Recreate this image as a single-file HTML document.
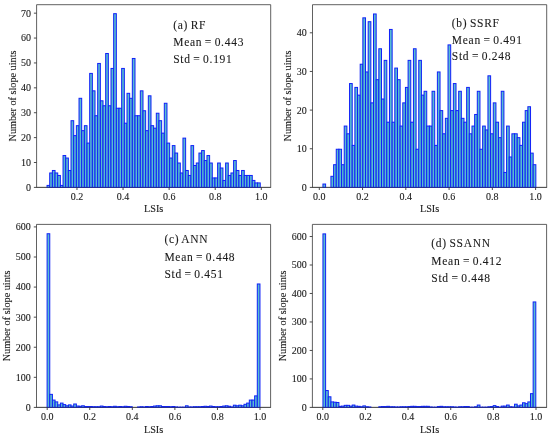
<!DOCTYPE html>
<html><head><meta charset="utf-8"><title>LSI histograms</title>
<style>
html,body{margin:0;padding:0;background:#fff}
svg{display:block}
text{font-family:"Liberation Serif","DejaVu Serif",serif;fill:#1a1a1a;stroke:#1a1a1a;stroke-width:0.1px}
.t{font-size:10px}
.l{font-size:10.2px}
.n{font-size:11.5px;letter-spacing:0.72px;word-spacing:-1px}
</style></head><body>
<svg width="550" height="437" viewBox="0 0 550 437">
<rect width="550" height="437" fill="#fff"/>
<g>
<path d="M36.6 187.4H270.7" stroke="#383838" stroke-width="0.8" fill="none"/>
<g fill="#58bcd0" stroke="#1020f8" stroke-width="1.0">
<rect x="47.05" y="185.41" width="2.665" height="1.99"/><rect x="49.71" y="172.97" width="2.665" height="14.43"/><rect x="52.38" y="170.48" width="2.665" height="16.92"/><rect x="55.04" y="172.97" width="2.665" height="14.43"/><rect x="57.71" y="175.46" width="2.665" height="11.95"/><rect x="60.38" y="185.41" width="2.665" height="1.99"/><rect x="63.04" y="155.54" width="2.665" height="31.86"/><rect x="65.70" y="158.03" width="2.665" height="29.37"/><rect x="68.37" y="170.48" width="2.665" height="16.92"/><rect x="71.03" y="120.70" width="2.665" height="66.70"/><rect x="73.70" y="135.63" width="2.665" height="51.77"/><rect x="76.36" y="125.68" width="2.665" height="61.72"/><rect x="79.03" y="98.30" width="2.665" height="89.10"/><rect x="81.69" y="130.65" width="2.665" height="56.75"/><rect x="84.36" y="125.68" width="2.665" height="61.72"/><rect x="87.03" y="143.10" width="2.665" height="44.30"/><rect x="89.69" y="73.41" width="2.665" height="113.99"/><rect x="92.35" y="90.83" width="2.665" height="96.57"/><rect x="95.02" y="115.72" width="2.665" height="71.68"/><rect x="97.69" y="63.45" width="2.665" height="123.95"/><rect x="100.35" y="100.79" width="2.665" height="86.61"/><rect x="103.02" y="105.76" width="2.665" height="81.64"/><rect x="105.68" y="53.49" width="2.665" height="133.91"/><rect x="108.34" y="105.76" width="2.665" height="81.64"/><rect x="111.01" y="68.43" width="2.665" height="118.97"/><rect x="113.67" y="13.67" width="2.665" height="173.73"/><rect x="116.34" y="108.25" width="2.665" height="79.15"/><rect x="119.00" y="108.25" width="2.665" height="79.15"/><rect x="121.67" y="68.43" width="2.665" height="118.97"/><rect x="124.33" y="123.19" width="2.665" height="64.21"/><rect x="127.00" y="93.32" width="2.665" height="94.08"/><rect x="129.66" y="98.30" width="2.665" height="89.10"/><rect x="132.33" y="58.47" width="2.665" height="128.93"/><rect x="135.00" y="115.72" width="2.665" height="71.68"/><rect x="137.66" y="115.72" width="2.665" height="71.68"/><rect x="140.32" y="90.83" width="2.665" height="96.57"/><rect x="142.99" y="110.74" width="2.665" height="76.66"/><rect x="145.66" y="130.65" width="2.665" height="56.75"/><rect x="148.32" y="95.81" width="2.665" height="91.59"/><rect x="150.99" y="125.68" width="2.665" height="61.72"/><rect x="153.65" y="128.16" width="2.665" height="59.24"/><rect x="156.31" y="113.23" width="2.665" height="74.17"/><rect x="158.98" y="120.70" width="2.665" height="66.70"/><rect x="161.64" y="133.14" width="2.665" height="54.26"/><rect x="164.31" y="103.27" width="2.665" height="84.13"/><rect x="166.97" y="143.10" width="2.665" height="44.30"/><rect x="169.64" y="158.03" width="2.665" height="29.37"/><rect x="172.31" y="145.59" width="2.665" height="41.81"/><rect x="174.97" y="153.05" width="2.665" height="34.35"/><rect x="177.63" y="163.01" width="2.665" height="24.39"/><rect x="180.30" y="172.97" width="2.665" height="14.43"/><rect x="182.96" y="138.12" width="2.665" height="49.28"/><rect x="185.63" y="170.48" width="2.665" height="16.92"/><rect x="188.30" y="175.46" width="2.665" height="11.95"/><rect x="190.96" y="145.59" width="2.665" height="41.81"/><rect x="193.62" y="165.50" width="2.665" height="21.90"/><rect x="196.29" y="163.01" width="2.665" height="24.39"/><rect x="198.95" y="153.05" width="2.665" height="34.35"/><rect x="201.62" y="150.56" width="2.665" height="36.84"/><rect x="204.29" y="160.52" width="2.665" height="26.88"/><rect x="206.95" y="155.54" width="2.665" height="31.86"/><rect x="209.62" y="163.01" width="2.665" height="24.39"/><rect x="212.28" y="177.94" width="2.665" height="9.46"/><rect x="214.94" y="177.94" width="2.665" height="9.46"/><rect x="217.61" y="163.01" width="2.665" height="24.39"/><rect x="220.27" y="167.99" width="2.665" height="19.41"/><rect x="222.94" y="180.43" width="2.665" height="6.97"/><rect x="225.61" y="163.01" width="2.665" height="24.39"/><rect x="228.27" y="175.46" width="2.665" height="11.95"/><rect x="230.94" y="172.97" width="2.665" height="14.43"/><rect x="233.60" y="160.52" width="2.665" height="26.88"/><rect x="236.26" y="170.48" width="2.665" height="16.92"/><rect x="238.93" y="175.46" width="2.665" height="11.95"/><rect x="241.60" y="170.48" width="2.665" height="16.92"/><rect x="244.26" y="175.46" width="2.665" height="11.95"/><rect x="246.93" y="175.46" width="2.665" height="11.95"/><rect x="249.59" y="175.46" width="2.665" height="11.95"/><rect x="252.25" y="180.43" width="2.665" height="6.97"/><rect x="254.92" y="182.92" width="2.665" height="4.48"/><rect x="257.58" y="182.92" width="2.665" height="4.48"/>
</g>
<path d="M36.6 187.8V4.7H270.7V187.8" fill="none" stroke="#383838" stroke-width="0.8"/>
<path d="M36.6 187.4H270.7" stroke="#383838" stroke-width="0.8" stroke-opacity="0.7" fill="none"/>
<path d="M33.9 187.40H36.6M33.9 162.51H36.6M33.9 137.62H36.6M33.9 112.73H36.6M33.9 87.84H36.6M33.9 62.95H36.6M33.9 38.06H36.6M33.9 13.17H36.6M76.98 187.4V190.0M123.06 187.4V190.0M169.14 187.4V190.0M215.22 187.4V190.0M261.30 187.4V190.0" stroke="#383838" stroke-width="0.9" fill="none"/>
<text class="t" x="30.9" y="190.80" text-anchor="end">0</text><text class="t" x="30.9" y="165.91" text-anchor="end">10</text><text class="t" x="30.9" y="141.02" text-anchor="end">20</text><text class="t" x="30.9" y="116.13" text-anchor="end">30</text><text class="t" x="30.9" y="91.24" text-anchor="end">40</text><text class="t" x="30.9" y="66.35" text-anchor="end">50</text><text class="t" x="30.9" y="41.46" text-anchor="end">60</text><text class="t" x="30.9" y="16.57" text-anchor="end">70</text>
<text class="t" x="76.98" y="199.7" text-anchor="middle">0.2</text><text class="t" x="123.06" y="199.7" text-anchor="middle">0.4</text><text class="t" x="169.14" y="199.7" text-anchor="middle">0.6</text><text class="t" x="215.22" y="199.7" text-anchor="middle">0.8</text><text class="t" x="261.30" y="199.7" text-anchor="middle">1.0</text>
<text class="l" x="153.7" y="212.3" text-anchor="middle">LSIs</text>
<text class="l" transform="translate(15.6 96.0) rotate(-90)" text-anchor="middle">Number of slope uints</text>
<text class="n" x="173.2" y="28.8">(a) RF</text><text class="n" x="173.2" y="45.6">Mean = 0.443</text><text class="n" x="173.2" y="62.6">Std = 0.191</text>
</g>
<g>
<path d="M312.5 187.4H546.7" stroke="#383838" stroke-width="0.8" fill="none"/>
<g fill="#58bcd0" stroke="#1020f8" stroke-width="1.0">
<rect x="322.94" y="184.03" width="2.661" height="3.37"/><rect x="330.92" y="176.31" width="2.661" height="11.10"/><rect x="333.59" y="164.71" width="2.661" height="22.69"/><rect x="336.25" y="149.25" width="2.661" height="38.15"/><rect x="338.91" y="149.25" width="2.661" height="38.15"/><rect x="341.57" y="164.71" width="2.661" height="22.69"/><rect x="344.23" y="126.06" width="2.661" height="61.34"/><rect x="346.89" y="133.79" width="2.661" height="53.61"/><rect x="349.55" y="83.55" width="2.661" height="103.86"/><rect x="352.22" y="145.38" width="2.661" height="42.02"/><rect x="354.88" y="87.41" width="2.661" height="99.99"/><rect x="357.54" y="95.14" width="2.661" height="92.26"/><rect x="360.20" y="64.22" width="2.661" height="123.18"/><rect x="362.86" y="17.84" width="2.661" height="169.56"/><rect x="365.52" y="71.95" width="2.661" height="115.45"/><rect x="368.18" y="21.70" width="2.661" height="165.70"/><rect x="370.85" y="102.87" width="2.661" height="84.53"/><rect x="373.51" y="13.97" width="2.661" height="173.43"/><rect x="376.17" y="79.68" width="2.661" height="107.72"/><rect x="378.83" y="48.76" width="2.661" height="138.64"/><rect x="381.49" y="99.00" width="2.661" height="88.40"/><rect x="384.15" y="60.36" width="2.661" height="127.05"/><rect x="386.81" y="122.20" width="2.661" height="65.20"/><rect x="389.48" y="29.44" width="2.661" height="157.97"/><rect x="392.14" y="122.20" width="2.661" height="65.20"/><rect x="394.80" y="68.08" width="2.661" height="119.32"/><rect x="397.46" y="79.68" width="2.661" height="107.72"/><rect x="400.12" y="126.06" width="2.661" height="61.34"/><rect x="402.78" y="102.87" width="2.661" height="84.53"/><rect x="405.44" y="87.41" width="2.661" height="99.99"/><rect x="408.10" y="60.36" width="2.661" height="127.05"/><rect x="410.77" y="122.20" width="2.661" height="65.20"/><rect x="413.43" y="48.76" width="2.661" height="138.64"/><rect x="416.09" y="149.25" width="2.661" height="38.15"/><rect x="418.75" y="60.36" width="2.661" height="127.05"/><rect x="421.41" y="95.14" width="2.661" height="92.26"/><rect x="424.07" y="91.28" width="2.661" height="96.12"/><rect x="426.73" y="126.06" width="2.661" height="61.34"/><rect x="429.40" y="126.06" width="2.661" height="61.34"/><rect x="432.06" y="91.28" width="2.661" height="96.12"/><rect x="434.72" y="145.38" width="2.661" height="42.02"/><rect x="437.38" y="71.95" width="2.661" height="115.45"/><rect x="440.04" y="110.60" width="2.661" height="76.80"/><rect x="442.70" y="133.79" width="2.661" height="53.61"/><rect x="445.36" y="118.33" width="2.661" height="69.07"/><rect x="448.03" y="44.90" width="2.661" height="142.50"/><rect x="450.69" y="110.60" width="2.661" height="76.80"/><rect x="453.35" y="83.55" width="2.661" height="103.86"/><rect x="456.01" y="110.60" width="2.661" height="76.80"/><rect x="458.67" y="91.28" width="2.661" height="96.12"/><rect x="461.33" y="118.33" width="2.661" height="69.07"/><rect x="463.99" y="122.20" width="2.661" height="65.20"/><rect x="466.66" y="87.41" width="2.661" height="99.99"/><rect x="469.32" y="133.79" width="2.661" height="53.61"/><rect x="471.98" y="126.06" width="2.661" height="61.34"/><rect x="474.64" y="114.47" width="2.661" height="72.94"/><rect x="477.30" y="91.28" width="2.661" height="96.12"/><rect x="479.96" y="149.25" width="2.661" height="38.15"/><rect x="482.62" y="126.06" width="2.661" height="61.34"/><rect x="485.29" y="129.93" width="2.661" height="57.48"/><rect x="487.95" y="75.81" width="2.661" height="111.59"/><rect x="490.61" y="133.79" width="2.661" height="53.61"/><rect x="493.27" y="102.87" width="2.661" height="84.53"/><rect x="495.93" y="122.20" width="2.661" height="65.20"/><rect x="498.59" y="137.66" width="2.661" height="49.75"/><rect x="501.25" y="91.28" width="2.661" height="96.12"/><rect x="503.92" y="172.44" width="2.661" height="14.96"/><rect x="506.58" y="126.06" width="2.661" height="61.34"/><rect x="509.24" y="156.98" width="2.661" height="30.42"/><rect x="511.90" y="133.79" width="2.661" height="53.61"/><rect x="514.56" y="133.79" width="2.661" height="53.61"/><rect x="517.22" y="137.66" width="2.661" height="49.75"/><rect x="519.88" y="145.38" width="2.661" height="42.02"/><rect x="522.54" y="122.20" width="2.661" height="65.20"/><rect x="525.21" y="110.60" width="2.661" height="76.80"/><rect x="527.87" y="106.73" width="2.661" height="80.67"/><rect x="530.53" y="153.12" width="2.661" height="34.29"/><rect x="533.19" y="164.71" width="2.661" height="22.69"/>
</g>
<path d="M312.5 187.8V4.7H546.7V187.8" fill="none" stroke="#383838" stroke-width="0.8"/>
<path d="M312.5 187.4H546.7" stroke="#383838" stroke-width="0.8" stroke-opacity="0.7" fill="none"/>
<path d="M309.8 187.40H312.5M309.8 148.75H312.5M309.8 110.10H312.5M309.8 71.45H312.5M309.8 32.80H312.5M319.30 187.4V190.0M362.56 187.4V190.0M405.82 187.4V190.0M449.08 187.4V190.0M492.34 187.4V190.0M535.60 187.4V190.0" stroke="#383838" stroke-width="0.9" fill="none"/>
<text class="t" x="306.8" y="190.80" text-anchor="end">0</text><text class="t" x="306.8" y="152.15" text-anchor="end">10</text><text class="t" x="306.8" y="113.50" text-anchor="end">20</text><text class="t" x="306.8" y="74.85" text-anchor="end">30</text><text class="t" x="306.8" y="36.20" text-anchor="end">40</text>
<text class="t" x="319.30" y="199.7" text-anchor="middle">0.0</text><text class="t" x="362.56" y="199.7" text-anchor="middle">0.2</text><text class="t" x="405.82" y="199.7" text-anchor="middle">0.4</text><text class="t" x="449.08" y="199.7" text-anchor="middle">0.6</text><text class="t" x="492.34" y="199.7" text-anchor="middle">0.8</text><text class="t" x="535.60" y="199.7" text-anchor="middle">1.0</text>
<text class="l" x="429.6" y="212.3" text-anchor="middle">LSIs</text>
<text class="l" transform="translate(291.4 96.0) rotate(-90)" text-anchor="middle">Number of slope uints</text>
<text class="n" x="451.8" y="26.6">(b) SSRF</text><text class="n" x="451.8" y="43.6">Mean = 0.491</text><text class="n" x="451.8" y="60.2">Std = 0.248</text>
</g>
<g>
<path d="M36.5 407.4H270.6" stroke="#383838" stroke-width="0.8" fill="none"/>
<g fill="#58bcd0" stroke="#1020f8" stroke-width="1.0">
<rect x="47.10" y="233.74" width="2.661" height="173.66"/><rect x="49.76" y="394.36" width="2.661" height="13.04"/><rect x="52.42" y="400.08" width="2.661" height="7.32"/><rect x="55.08" y="401.88" width="2.661" height="5.52"/><rect x="57.74" y="404.89" width="2.661" height="2.51"/><rect x="60.40" y="403.09" width="2.661" height="4.31"/><rect x="63.06" y="404.59" width="2.661" height="2.81"/><rect x="65.73" y="405.79" width="2.661" height="1.61"/><rect x="68.39" y="404.89" width="2.661" height="2.51"/><rect x="71.05" y="406.05" width="2.661" height="1.35"/><rect x="73.71" y="403.99" width="2.661" height="3.41"/><rect x="76.37" y="406.05" width="2.661" height="1.35"/><rect x="79.03" y="406.27" width="2.661" height="1.13"/><rect x="81.69" y="405.79" width="2.661" height="1.61"/><rect x="84.35" y="406.50" width="2.661" height="0.90"/><rect x="87.01" y="406.50" width="2.661" height="0.90"/><rect x="89.67" y="406.50" width="2.661" height="0.90"/><rect x="92.33" y="406.72" width="2.661" height="0.68"/><rect x="94.99" y="406.72" width="2.661" height="0.68"/><rect x="97.66" y="406.72" width="2.661" height="0.68"/><rect x="100.32" y="406.05" width="2.661" height="1.35"/><rect x="102.98" y="406.50" width="2.661" height="0.90"/><rect x="105.64" y="406.72" width="2.661" height="0.68"/><rect x="108.30" y="406.50" width="2.661" height="0.90"/><rect x="110.96" y="406.72" width="2.661" height="0.68"/><rect x="113.62" y="406.27" width="2.661" height="1.13"/><rect x="116.28" y="406.72" width="2.661" height="0.68"/><rect x="118.94" y="406.50" width="2.661" height="0.90"/><rect x="121.60" y="406.72" width="2.661" height="0.68"/><rect x="124.26" y="406.27" width="2.661" height="1.13"/><rect x="126.92" y="406.50" width="2.661" height="0.90"/><rect x="129.58" y="406.72" width="2.661" height="0.68"/><rect x="137.57" y="406.95" width="2.661" height="0.45"/><rect x="140.23" y="406.72" width="2.661" height="0.68"/><rect x="142.89" y="406.95" width="2.661" height="0.45"/><rect x="145.55" y="406.50" width="2.661" height="0.90"/><rect x="148.21" y="406.72" width="2.661" height="0.68"/><rect x="150.87" y="406.50" width="2.661" height="0.90"/><rect x="153.53" y="406.05" width="2.661" height="1.35"/><rect x="156.19" y="405.79" width="2.661" height="1.61"/><rect x="158.85" y="405.79" width="2.661" height="1.61"/><rect x="161.51" y="406.50" width="2.661" height="0.90"/><rect x="164.18" y="406.50" width="2.661" height="0.90"/><rect x="166.84" y="406.50" width="2.661" height="0.90"/><rect x="169.50" y="406.72" width="2.661" height="0.68"/><rect x="172.16" y="406.50" width="2.661" height="0.90"/><rect x="174.82" y="406.95" width="2.661" height="0.45"/><rect x="177.48" y="407.17" width="2.661" height="0.23"/><rect x="180.14" y="407.17" width="2.661" height="0.23"/><rect x="182.80" y="407.17" width="2.661" height="0.23"/><rect x="185.46" y="405.79" width="2.661" height="1.61"/><rect x="188.12" y="406.95" width="2.661" height="0.45"/><rect x="190.78" y="406.95" width="2.661" height="0.45"/><rect x="193.44" y="406.72" width="2.661" height="0.68"/><rect x="196.10" y="406.72" width="2.661" height="0.68"/><rect x="198.77" y="406.72" width="2.661" height="0.68"/><rect x="201.43" y="406.50" width="2.661" height="0.90"/><rect x="204.09" y="406.27" width="2.661" height="1.13"/><rect x="206.75" y="406.50" width="2.661" height="0.90"/><rect x="209.41" y="406.05" width="2.661" height="1.35"/><rect x="212.07" y="406.50" width="2.661" height="0.90"/><rect x="214.73" y="406.72" width="2.661" height="0.68"/><rect x="217.39" y="406.72" width="2.661" height="0.68"/><rect x="220.05" y="406.50" width="2.661" height="0.90"/><rect x="222.71" y="406.05" width="2.661" height="1.35"/><rect x="225.37" y="405.79" width="2.661" height="1.61"/><rect x="228.03" y="406.27" width="2.661" height="1.13"/><rect x="230.70" y="406.95" width="2.661" height="0.45"/><rect x="233.36" y="405.19" width="2.661" height="2.21"/><rect x="236.02" y="405.79" width="2.661" height="1.61"/><rect x="238.68" y="405.19" width="2.661" height="2.21"/><rect x="241.34" y="405.79" width="2.661" height="1.61"/><rect x="244.00" y="404.29" width="2.661" height="3.11"/><rect x="246.66" y="403.09" width="2.661" height="4.31"/><rect x="249.32" y="400.08" width="2.661" height="7.32"/><rect x="251.98" y="400.08" width="2.661" height="7.32"/><rect x="254.64" y="395.87" width="2.661" height="11.53"/><rect x="257.30" y="283.97" width="2.661" height="123.43"/>
</g>
<path d="M36.5 407.8V224.4H270.6V407.8" fill="none" stroke="#383838" stroke-width="0.8"/>
<path d="M36.5 407.4H270.6" stroke="#383838" stroke-width="0.8" stroke-opacity="0.7" fill="none"/>
<path d="M33.8 407.40H36.5M33.8 377.32H36.5M33.8 347.24H36.5M33.8 317.16H36.5M33.8 287.08H36.5M33.8 257.00H36.5M33.8 226.92H36.5M47.20 407.4V410.0M89.76 407.4V410.0M132.32 407.4V410.0M174.88 407.4V410.0M217.44 407.4V410.0M260.00 407.4V410.0" stroke="#383838" stroke-width="0.9" fill="none"/>
<text class="t" x="30.8" y="410.80" text-anchor="end">0</text><text class="t" x="30.8" y="380.72" text-anchor="end">100</text><text class="t" x="30.8" y="350.64" text-anchor="end">200</text><text class="t" x="30.8" y="320.56" text-anchor="end">300</text><text class="t" x="30.8" y="290.48" text-anchor="end">400</text><text class="t" x="30.8" y="260.40" text-anchor="end">500</text><text class="t" x="30.8" y="230.32" text-anchor="end">600</text>
<text class="t" x="47.20" y="419.7" text-anchor="middle">0.0</text><text class="t" x="89.76" y="419.7" text-anchor="middle">0.2</text><text class="t" x="132.32" y="419.7" text-anchor="middle">0.4</text><text class="t" x="174.88" y="419.7" text-anchor="middle">0.6</text><text class="t" x="217.44" y="419.7" text-anchor="middle">0.8</text><text class="t" x="260.00" y="419.7" text-anchor="middle">1.0</text>
<text class="l" x="153.6" y="432.8" text-anchor="middle">LSIs</text>
<text class="l" transform="translate(10.1 315.9) rotate(-90)" text-anchor="middle">Number of slope uints</text>
<text class="n" x="164.4" y="242.7">(c) ANN</text><text class="n" x="164.4" y="260.5">Mean = 0.448</text><text class="n" x="164.4" y="278.2">Std = 0.451</text>
</g>
<g>
<path d="M312.4 407.4H546.6" stroke="#383838" stroke-width="0.8" fill="none"/>
<g fill="#58bcd0" stroke="#1020f8" stroke-width="1.0">
<rect x="322.95" y="233.89" width="2.661" height="173.51"/><rect x="325.61" y="390.53" width="2.661" height="16.87"/><rect x="328.27" y="396.79" width="2.661" height="10.61"/><rect x="330.93" y="401.92" width="2.661" height="5.48"/><rect x="333.59" y="402.20" width="2.661" height="5.20"/><rect x="336.25" y="402.49" width="2.661" height="4.91"/><rect x="338.91" y="406.33" width="2.661" height="1.07"/><rect x="341.58" y="406.12" width="2.661" height="1.28"/><rect x="344.24" y="405.34" width="2.661" height="2.06"/><rect x="346.90" y="405.34" width="2.661" height="2.06"/><rect x="349.56" y="406.12" width="2.661" height="1.28"/><rect x="352.22" y="405.05" width="2.661" height="2.35"/><rect x="354.88" y="406.12" width="2.661" height="1.28"/><rect x="357.54" y="406.33" width="2.661" height="1.07"/><rect x="360.20" y="406.76" width="2.661" height="0.64"/><rect x="362.86" y="405.90" width="2.661" height="1.50"/><rect x="365.52" y="406.76" width="2.661" height="0.64"/><rect x="368.18" y="406.97" width="2.661" height="0.43"/><rect x="378.83" y="406.76" width="2.661" height="0.64"/><rect x="381.49" y="406.55" width="2.661" height="0.85"/><rect x="384.15" y="406.55" width="2.661" height="0.85"/><rect x="386.81" y="406.33" width="2.661" height="1.07"/><rect x="389.47" y="406.76" width="2.661" height="0.64"/><rect x="392.13" y="406.76" width="2.661" height="0.64"/><rect x="394.79" y="406.97" width="2.661" height="0.43"/><rect x="397.45" y="406.97" width="2.661" height="0.43"/><rect x="400.11" y="406.76" width="2.661" height="0.64"/><rect x="402.77" y="406.76" width="2.661" height="0.64"/><rect x="405.43" y="406.76" width="2.661" height="0.64"/><rect x="408.10" y="406.55" width="2.661" height="0.85"/><rect x="410.76" y="406.33" width="2.661" height="1.07"/><rect x="413.42" y="406.33" width="2.661" height="1.07"/><rect x="416.08" y="406.55" width="2.661" height="0.85"/><rect x="418.74" y="406.55" width="2.661" height="0.85"/><rect x="421.40" y="406.33" width="2.661" height="1.07"/><rect x="424.06" y="406.33" width="2.661" height="1.07"/><rect x="426.72" y="406.33" width="2.661" height="1.07"/><rect x="429.38" y="406.97" width="2.661" height="0.43"/><rect x="432.04" y="407.19" width="2.661" height="0.21"/><rect x="434.70" y="407.19" width="2.661" height="0.21"/><rect x="437.36" y="406.55" width="2.661" height="0.85"/><rect x="440.03" y="406.33" width="2.661" height="1.07"/><rect x="442.69" y="406.76" width="2.661" height="0.64"/><rect x="445.35" y="406.76" width="2.661" height="0.64"/><rect x="448.01" y="406.76" width="2.661" height="0.64"/><rect x="450.67" y="406.76" width="2.661" height="0.64"/><rect x="453.33" y="406.97" width="2.661" height="0.43"/><rect x="455.99" y="407.19" width="2.661" height="0.21"/><rect x="458.65" y="406.76" width="2.661" height="0.64"/><rect x="461.31" y="406.76" width="2.661" height="0.64"/><rect x="463.97" y="406.55" width="2.661" height="0.85"/><rect x="466.63" y="406.55" width="2.661" height="0.85"/><rect x="469.29" y="407.19" width="2.661" height="0.21"/><rect x="471.95" y="407.19" width="2.661" height="0.21"/><rect x="474.62" y="406.76" width="2.661" height="0.64"/><rect x="477.28" y="405.05" width="2.661" height="2.35"/><rect x="479.94" y="407.19" width="2.661" height="0.21"/><rect x="482.60" y="407.19" width="2.661" height="0.21"/><rect x="485.26" y="407.19" width="2.661" height="0.21"/><rect x="487.92" y="406.76" width="2.661" height="0.64"/><rect x="490.58" y="406.55" width="2.661" height="0.85"/><rect x="493.24" y="405.62" width="2.661" height="1.78"/><rect x="495.90" y="406.55" width="2.661" height="0.85"/><rect x="498.56" y="407.19" width="2.661" height="0.21"/><rect x="501.22" y="406.12" width="2.661" height="1.28"/><rect x="503.88" y="406.12" width="2.661" height="1.28"/><rect x="506.55" y="405.05" width="2.661" height="2.35"/><rect x="509.21" y="406.76" width="2.661" height="0.64"/><rect x="511.87" y="406.97" width="2.661" height="0.43"/><rect x="514.53" y="404.20" width="2.661" height="3.20"/><rect x="517.19" y="405.90" width="2.661" height="1.50"/><rect x="519.85" y="405.05" width="2.661" height="2.35"/><rect x="522.51" y="402.77" width="2.661" height="4.63"/><rect x="525.17" y="403.63" width="2.661" height="3.77"/><rect x="527.83" y="401.92" width="2.661" height="5.48"/><rect x="530.49" y="393.66" width="2.661" height="13.74"/><rect x="533.15" y="301.95" width="2.661" height="105.45"/>
</g>
<path d="M312.4 407.8V224.4H546.6V407.8" fill="none" stroke="#383838" stroke-width="0.8"/>
<path d="M312.4 407.4H546.6" stroke="#383838" stroke-width="0.8" stroke-opacity="0.7" fill="none"/>
<path d="M309.7 407.40H312.4M309.7 378.92H312.4M309.7 350.44H312.4M309.7 321.96H312.4M309.7 293.48H312.4M309.7 265.00H312.4M309.7 236.52H312.4M322.80 407.4V410.0M365.44 407.4V410.0M408.08 407.4V410.0M450.72 407.4V410.0M493.36 407.4V410.0M536.00 407.4V410.0" stroke="#383838" stroke-width="0.9" fill="none"/>
<text class="t" x="306.7" y="410.80" text-anchor="end">0</text><text class="t" x="306.7" y="382.32" text-anchor="end">100</text><text class="t" x="306.7" y="353.84" text-anchor="end">200</text><text class="t" x="306.7" y="325.36" text-anchor="end">300</text><text class="t" x="306.7" y="296.88" text-anchor="end">400</text><text class="t" x="306.7" y="268.40" text-anchor="end">500</text><text class="t" x="306.7" y="239.92" text-anchor="end">600</text>
<text class="t" x="322.80" y="419.7" text-anchor="middle">0.0</text><text class="t" x="365.44" y="419.7" text-anchor="middle">0.2</text><text class="t" x="408.08" y="419.7" text-anchor="middle">0.4</text><text class="t" x="450.72" y="419.7" text-anchor="middle">0.6</text><text class="t" x="493.36" y="419.7" text-anchor="middle">0.8</text><text class="t" x="536.00" y="419.7" text-anchor="middle">1.0</text>
<text class="l" x="429.5" y="432.8" text-anchor="middle">LSIs</text>
<text class="l" transform="translate(286.0 315.9) rotate(-90)" text-anchor="middle">Number of slope uints</text>
<text class="n" x="431.3" y="247.0">(d) SSANN</text><text class="n" x="431.3" y="264.5">Mean = 0.412</text><text class="n" x="431.3" y="282.1">Std = 0.448</text>
</g>
</svg>
</body></html>
